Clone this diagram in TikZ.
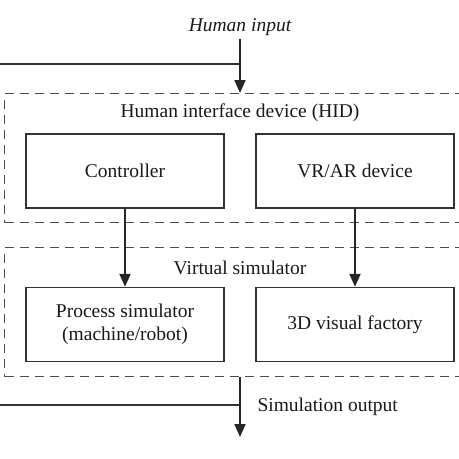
\documentclass[tikz,border=0pt]{standalone}
\usepackage{fontspec}
\setmainfont{Liberation Serif}
\usetikzlibrary{arrows.meta,positioning,calc}

\tikzset{
  blk/.style={draw=black!80, line width=1.3pt, minimum width=198pt, minimum height=74pt, align=center, inner sep=0pt},
  grp/.style={draw=black!70, line width=1.3pt, dash pattern=on 9pt off 6pt, minimum width=480pt, inner sep=0pt},
  flow/.style={draw=black!85, line width=2pt, -{Triangle[length=13pt,width=11pt]}},
  feed/.style={draw=black!80, line width=1.3pt}
}

\begin{document}
\begin{tikzpicture}[x=1pt,y=-1pt, font=\fontsize{19.5}{23}\selectfont, text=black!90]
  \useasboundingbox (0,0) rectangle (459,459);

  % Groups
  \node[grp, minimum height=129pt, anchor=north west] (hid) at (4,93) {};
  \node[grp, minimum height=129pt, anchor=north west] (vsim) at (4,247) {};
  \node (hidlbl) at (240,113) {Human interface device (HID)};
  \node (vsimlbl) at (240,268) {Virtual simulator};

  % Blocks
  \node[blk] (ctrl) at (125,171) {Controller};
  \node[blk] (vrar) at (355,171) {VR/AR device};
  \node[blk] (proc) at (125,324.5) {Process simulator\\(machine/robot)};
  \node[blk] (fact) at (355,324.5) {3D visual factory};

  % Input and output
  \node[font=\fontsize{19.5}{23}\selectfont\itshape] (hin) at (240,27) {Human input};
  \coordinate (infeed) at (-5,64);
  \coordinate (outtip) at (240,437);
  \coordinate (outfeed) at (-5,405);
  \node[anchor=west] (hout) at (254,407) {Simulation output};

  % Connectors
  \draw[feed] (infeed) -- (infeed -| hin.south);
  \draw[flow] (hin.south) -- (hin.south |- hid.north);
  \draw[flow] (ctrl.south) -- (proc.north);
  \draw[flow] (vrar.south) -- (fact.north);
  \draw[feed] (outfeed) -- (outfeed -| outtip);
  \draw[flow] (outtip |- vsim.south) -- (outtip);
\end{tikzpicture}
\end{document}
